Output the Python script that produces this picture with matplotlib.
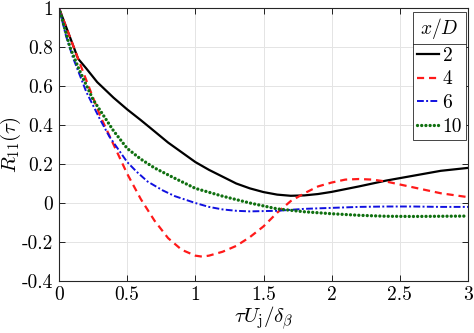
import matplotlib
matplotlib.use("Agg")
import matplotlib.pyplot as plt
from matplotlib.lines import Line2D

plt.rcParams['font.family'] = 'serif'
plt.rcParams['font.serif'] = ['cmr10', 'DejaVu Serif']
plt.rcParams['mathtext.fontset'] = 'cm'

###################################
# data
###################################

# x/D = 2
x2 = [0, 0.07, 0.14, 0.2, 0.28, 0.4, 0.5, 0.6, 0.67, 0.8, 0.9, 1.0, 1.1, 1.2, 1.3, 1.4, 1.5,
      1.6, 1.7, 1.8, 1.9, 2.0, 2.2, 2.4, 2.6, 2.8, 3.0]
r2 = [1.0, 0.87, 0.74, 0.69, 0.62, 0.54, 0.48, 0.425, 0.385, 0.31, 0.26, 0.21, 0.17, 0.135,
      0.1, 0.075, 0.056, 0.043, 0.037, 0.039, 0.046, 0.057, 0.085, 0.115, 0.14, 0.165, 0.18]

# x/D = 4
x4 = [0, 0.07, 0.14, 0.2, 0.3, 0.4, 0.5, 0.6, 0.7, 0.8, 0.9, 1.0, 1.05, 1.1, 1.2, 1.3, 1.4,
      1.5, 1.6, 1.7, 1.8, 1.9, 2.0, 2.1, 2.2, 2.3, 2.4, 2.5, 2.6, 2.7, 2.8, 2.9, 3.0]
r4 = [1.0, 0.87, 0.74, 0.63, 0.45, 0.3, 0.15, 0.02, -0.09, -0.18, -0.24, -0.27, -0.275, -0.27,
      -0.25, -0.22, -0.175, -0.12, -0.05, 0.01, 0.05, 0.085, 0.105, 0.12, 0.123, 0.12, 0.11,
      0.095, 0.08, 0.065, 0.05, 0.04, 0.03]

# x/D = 6
x6 = [0, 0.05, 0.1, 0.15, 0.2, 0.25, 0.3, 0.37, 0.45, 0.5, 0.57, 0.65, 0.76, 0.85, 1.0, 1.1,
      1.2, 1.3, 1.4, 1.6, 1.8, 2.0, 2.2, 2.4, 2.6, 2.8, 3.0]
r6 = [1.0, 0.86, 0.75, 0.66, 0.57, 0.5, 0.43, 0.34, 0.26, 0.21, 0.16, 0.11, 0.065, 0.035,
      0.0, -0.02, -0.033, -0.04, -0.043, -0.04, -0.03, -0.025, -0.02, -0.018, -0.018,
      -0.02, -0.02]

# x/D = 10
x10 = [0, 0.08, 0.15, 0.25, 0.4, 0.5, 0.6, 0.7, 0.84, 1.0, 1.2, 1.4, 1.6, 1.8, 2.0, 2.2,
       2.4, 2.6, 2.8, 3.0]
r10 = [1.0, 0.8, 0.68, 0.53, 0.37, 0.28, 0.225, 0.18, 0.13, 0.075, 0.035, 0.0, -0.03,
       -0.045, -0.055, -0.063, -0.068, -0.069, -0.068, -0.067]

yticks = [-0.4, -0.2, 0, 0.2, 0.4, 0.6, 0.8, 1]
ylabels = ['-0.4', '-0.2', '0', '0.2', '0.4', '0.6', '0.8', '1']
xticks = [0, 0.5, 1, 1.5, 2, 2.5, 3]
xlabels = ['0', '0.5', '1', '1.5', '2', '2.5', '3']

###################################
# plot
###################################

fig = plt.figure(figsize=(4.74, 3.33), dpi=100)
ax = fig.add_axes([59/474, 1-281/333, (468-59)/474, (281-8)/333])

ax.plot(x2, r2, '-', color='k', lw=1.6, label='2')
ax.plot(x4, r4, '--', color='#ff1a1a', lw=1.6, dashes=(3.2, 2.2), label='4')
ax.plot(x6, r6, '-.', color='#1010e0', lw=1.4, dashes=(3.5, 1.2, 1, 1.2), label='6')
ax.plot(x10, r10, color='#107010', lw=2.4, linestyle=(0, (0.01, 1.25)),
        dash_capstyle='round', label='10')

ax.set_xlim(0, 3)
ax.set_ylim(-0.4, 1)
ax.set_xticks(xticks)
ax.set_xticklabels(xlabels)
ax.set_yticks(yticks)
ax.set_yticklabels(ylabels)
ax.tick_params(direction='in', top=True, right=True, labelsize=14, length=4, width=0.6,
               pad=4)
ax.grid(True, color='#e4e4e4', lw=0.7)
for s in ax.spines.values():
    s.set_linewidth(0.8)
    s.set_color('#262626')

ax.set_xlabel(r'$\tau U_{\mathrm{j}}/\delta_\beta$', fontsize=15, labelpad=0)
ax.set_ylabel(r'$R_{11}(\tau)$', fontsize=15)
ax.yaxis.set_label_coords(-0.087, 0.5)

leg = ax.legend(title=r'$x/D$', loc='upper right', bbox_to_anchor=(0.995, 0.985),
                fontsize=14, title_fontsize=14, handlelength=1.1, handletextpad=0.2,
                borderpad=0.2, labelspacing=0.3, fancybox=False, edgecolor='#262626',
                framealpha=1, borderaxespad=0)
leg.get_frame().set_linewidth(0.6)

# MATLAB style line under the legend title
fig.canvas.draw()
lb = leg.get_window_extent()
tb = leg.get_title().get_window_extent()
ysep = tb.y0 - 3
fig.add_artist(Line2D([lb.x0, lb.x1], [ysep, ysep], transform=None,
                      color='#262626', lw=0.6))

plt.savefig('out.png', dpi=100)
